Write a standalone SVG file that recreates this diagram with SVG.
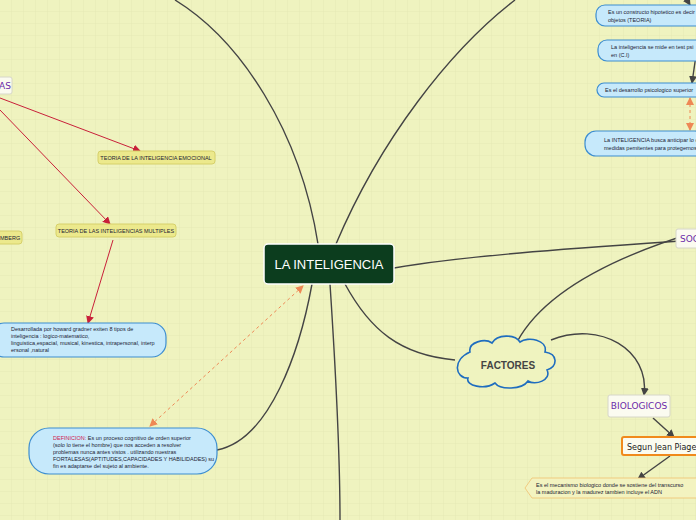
<svg xmlns="http://www.w3.org/2000/svg" width="696" height="520" viewBox="0 0 696 520">
<defs>
<pattern id="grid" width="12" height="12" patternUnits="userSpaceOnUse"><rect width="12" height="12" fill="#eff3bf"/><path d="M12 0V12H0" fill="none" stroke="#e2e6b2" stroke-width="0.8"/></pattern>
<marker id="ar" markerWidth="8" markerHeight="8" refX="7" refY="4" orient="auto" markerUnits="userSpaceOnUse"><path d="M0 0L8 4L0 8z" fill="#c8203a"/></marker>
<marker id="ak" markerWidth="8" markerHeight="8" refX="7" refY="4" orient="auto" markerUnits="userSpaceOnUse"><path d="M0 0L8 4L0 8z" fill="#444"/></marker>
<marker id="ao" markerWidth="8" markerHeight="8" refX="7" refY="4" orient="auto-start-reverse" markerUnits="userSpaceOnUse"><path d="M0 0L8 4L0 8z" fill="#ee8855"/></marker>
</defs>
<style>
text{font-family:"Liberation Sans",Arial,sans-serif}
.sm{font-size:5.5px;fill:#223}
.yl{fill:#ece98c;stroke:#d6d06a;stroke-width:1}
.bl{fill:#c6e9fb;stroke:#3d8ed0;stroke-width:1.2}
.wt{fill:#fbfbf0;stroke:#d6d6c8;stroke-width:1}
.pu{font-family:"DejaVu Sans",sans-serif;font-size:9px;fill:#6a2aa8}
.k{fill:none;stroke:#444;stroke-width:1.4}
.r{fill:none;stroke:#c8203a;stroke-width:1}
.o{fill:none;stroke:#ee8855;stroke-width:1;stroke-dasharray:3 3}
</style>
<rect width="696" height="520" fill="url(#grid)"/>
<g id="connectors">
<path class="k" d="M318 244C300 130 240 40 175 0"/>
<path class="k" d="M336 244C380 140 450 50 515 0"/>
<path class="k" d="M394 268C470 255 580 248 696 240"/>
<path class="k" d="M330 284C335 360 340 440 340 520"/>
<path class="k" d="M345 284C370 330 400 355 455 360"/>
<path class="k" d="M312 284C300 350 270 440 217 450"/>
<path class="o" d="M303 286L150 426" marker-start="url(#ao)" marker-end="url(#ao)"/>
<path class="r" d="M0 98L140 151" marker-end="url(#ar)"/>
<path class="r" d="M0 110L110 224" marker-end="url(#ar)"/>
<path class="r" d="M113 240L88 323" marker-end="url(#ar)"/>
<path class="k" d="M687 0L690 5" stroke-width="1" marker-end="url(#ak)"/>
<path class="k" d="M696 55L692 83" stroke-width="1" marker-end="url(#ak)"/>
<path class="o" d="M690 98L690 130" marker-start="url(#ao)" marker-end="url(#ao)"/>
<path class="k" stroke-width="1" d="M517 342C545 290 620 255 696 232"/>
<path class="k" stroke-width="1" d="M551 340C600 320 650 350 644 395" marker-end="url(#ak)"/>
<path class="k" stroke-width="1" d="M653 418L674 437" marker-end="url(#ak)"/>
<path class="k" stroke-width="1" d="M670 456L638 479" marker-end="url(#ak)"/>
</g>
<g id="center"><rect x="264" y="244" width="130" height="40" rx="4" fill="#0c3d1e" stroke="#fff" stroke-width="1.5"/><text x="329" y="269" text-anchor="middle" font-size="13" fill="#fff">LA INTELIGENCIA</text></g>
<g id="n-as"><rect x="-8" y="77" width="20" height="17" rx="2" class="wt"/><text x="-1" y="89" class="pu">AS</text></g>
<g id="n-emo"><rect x="98" y="151" width="117" height="13" rx="3" class="yl"/><text x="156" y="160" text-anchor="middle" class="sm">TEORIA DE LA INTELIGENCIA EMOCIONAL</text></g>
<g id="n-mult"><rect x="56" y="224" width="120" height="13" rx="3" class="yl"/><text x="116" y="233" text-anchor="middle" class="sm">TEORIA DE LAS INTELIGENCIAS MULTIPLES</text></g>
<g id="n-berg"><rect x="-10" y="231" width="32" height="13" rx="3" class="yl"/><text x="0" y="240" class="sm">MBERG</text></g>
<g id="n-gard"><rect x="-10" y="323" width="176" height="34" rx="14" class="bl"/><text class="sm"><tspan x="11" y="331">Desarrollada por  howard gradner  exiten  8 tipos de</tspan><tspan x="11" y="338">inteligencia   : logico-matematico,</tspan><tspan x="11" y="345">linguistica,espacial, musical, kinestica, intrapersonal, interp</tspan><tspan x="11" y="352">ersonal ,natural</tspan></text></g>
<g id="n-def"><rect x="29" y="428" width="188" height="46" rx="20" class="bl"/><text class="sm"><tspan x="53" y="440"><tspan fill="#d02050">DEFINICION:</tspan> Es un proceso cognitivo de orden superior</tspan><tspan x="53" y="447">(solo lo tiene el hombre) que nos acceden  a resolver</tspan><tspan x="53" y="454">problemas nunca antes vistos .  utilizando nuestras</tspan><tspan x="53" y="461">FORTALESAS(APTITUDES,CAPACIDADES Y HABILIDADES) su</tspan><tspan x="53" y="468">fin es adaptarse del sujeto al ambiente.</tspan></text></g>
<g id="n-r1"><rect x="596" y="5" width="110" height="21" rx="9" class="bl"/><text class="sm"><tspan x="608" y="14">Es un constructo hipotetico es decir</tspan><tspan x="608" y="22">objetos (TEORIA)</tspan></text></g>
<g id="n-r2"><rect x="598" y="40" width="110" height="21" rx="9" class="bl"/><text class="sm"><tspan x="611" y="49">La  inteligencia se mide en test psi</tspan><tspan x="611" y="57">en (C.I)</tspan></text></g>
<g id="n-r3"><rect x="597" y="83" width="110" height="14" rx="7" class="bl"/><text class="sm" x="605" y="92">Es el desarrollo psicologico superior</text></g>
<g id="n-r4"><rect x="585" y="131" width="121" height="25" rx="11" class="bl"/><text class="sm"><tspan x="604" y="142">La INTELIGENCIA busca anticipar lo que</tspan><tspan x="604" y="150">medidas pemitentes para protegernos</tspan></text></g>
<g id="n-soc"><rect x="676" y="229" width="30" height="19" rx="2" class="wt"/><text x="680" y="242" class="pu">SOC</text></g>
<g id="n-fact"><path d="M470 352C468 342 485 338 492 343C497 334 515 334 520 342C528 336 548 340 545 352C558 354 558 366 547 370C552 380 535 386 528 381C522 390 500 390 495 383C485 390 465 386 468 378C455 378 452 360 470 352Z" fill="#eff3bf" stroke="#1f6dbf" stroke-width="1.6"/><text x="508" y="369" text-anchor="middle" font-size="10" font-weight="bold" fill="#444">FACTORES</text></g>
<g id="n-bio"><rect x="608" y="395" width="62" height="22" rx="2" class="wt"/><text x="639" y="409" text-anchor="middle" class="pu">BIOLOGICOS</text></g>
<g id="n-piag"><rect x="622" y="437" width="84" height="18" rx="2" fill="#fbfbf0" stroke="#f08a1c" stroke-width="2"/><text x="627" y="449.5" font-family="DejaVu Sans" font-size="8" fill="#222" style="font-family:'DejaVu Sans',sans-serif">Segun Jean Piaget</text></g>
<g id="n-adn"><path d="M532 478H706V498H532L525 488Z" fill="#f3f3c0" stroke="#f0c070" stroke-width="0.8"/><text class="sm"><tspan x="536" y="487">Es el mecanismo biologico donde se sostiene del transcurso</tspan><tspan x="536" y="494">la maduracion y la madurez  tambien incluye el ADN</tspan></text></g>
</svg>
